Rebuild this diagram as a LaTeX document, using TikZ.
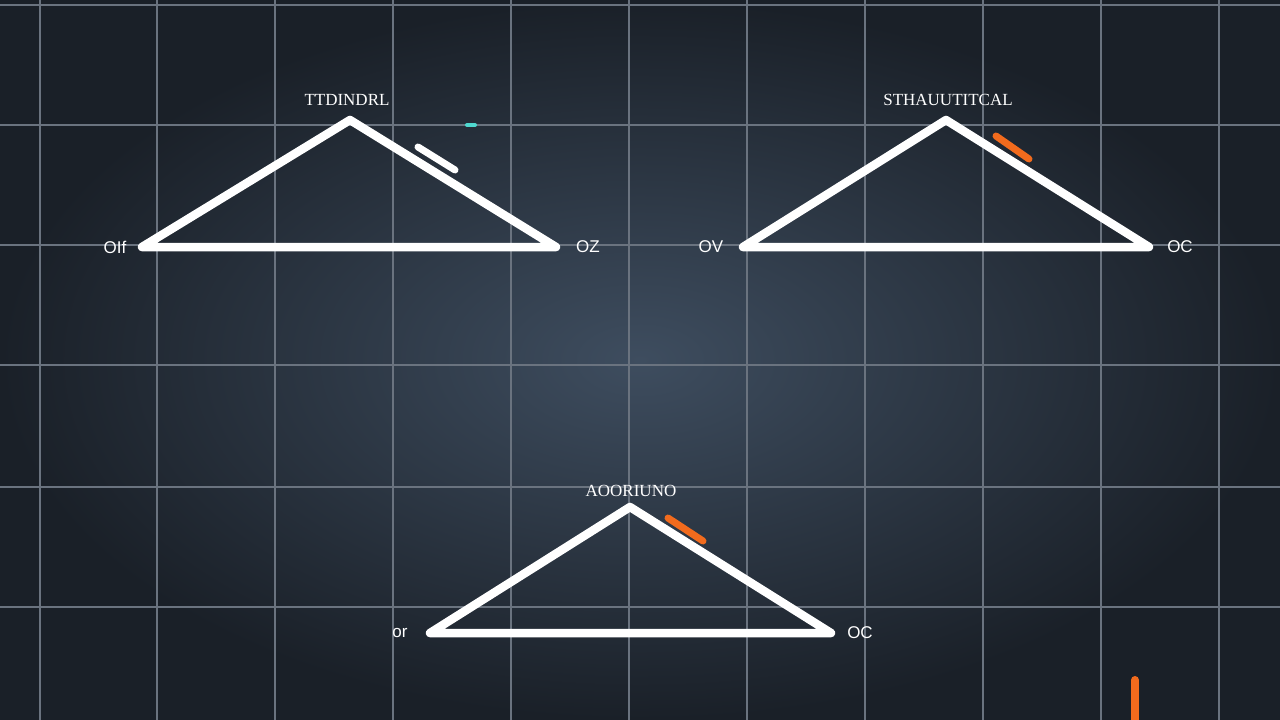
\documentclass[tikz,border=0pt]{standalone}
\usepackage{fontspec}
\setmainfont{Liberation Serif}
\newfontfamily\labsans{Liberation Sans}
\begin{document}
\begin{tikzpicture}[x=1pt,y=-1pt,
  gridline/.style={draw=gridgray,line width=1.8pt},
  tri/.style={draw=white,line width=8.5pt,line join=round},
  accentw/.style={draw=white,line width=7pt,line cap=round},
  accento/.style={draw=accorange,line width=7pt,line cap=round},
  accentc/.style={draw=acccyan,line width=4pt,line cap=round},
  titlelab/.style={text=white,font=\fontsize{17}{17}\selectfont,inner sep=0pt},
  vlab/.style={text=white,font=\labsans\fontsize{17}{17}\selectfont,inner sep=0pt}]
\definecolor{bgin}{HTML}{3E4D5F}
\definecolor{bgout}{HTML}{1A2028}
\definecolor{gridgray}{HTML}{6A737F}
\definecolor{accorange}{HTML}{F26B1D}
\definecolor{acccyan}{HTML}{4FD8CF}
\useasboundingbox (0,0) rectangle (1280,720);
\shade[inner color=bgin,outer color=bgout] (0,0) rectangle (1280,720);
% grid
\foreach \gx in {40,157,275,393,511,629,747,865,983,1101,1219}
  \draw[gridline] (\gx,0) -- (\gx,720);
\foreach \gy in {5,125,245,365,487,607}
  \draw[gridline] (0,\gy) -- (1280,\gy);
% triangle 1
\coordinate (t1a) at (350,120);
\coordinate (t1l) at (142,247);
\coordinate (t1r) at (556,247);
\draw[tri] (t1l) -- (t1a) -- (t1r) -- cycle;
\node[titlelab] (t1t) at (347,100) {TTDINDRL};
\node[vlab] (t1lt) at (115,247) {OIf};
\node[vlab] (t1rt) at (588,247) {OZ};
\coordinate (w1s) at (418,147);
\coordinate (w1e) at (455,170);
\draw[accentw] (w1s) -- (w1e);
\coordinate (c1s) at (467,125);
\coordinate (c1e) at (475,125);
\draw[accentc] (c1s) -- (c1e);
% triangle 2
\coordinate (t2a) at (946,120);
\coordinate (t2l) at (743,247);
\coordinate (t2r) at (1149,247);
\draw[tri] (t2l) -- (t2a) -- (t2r) -- cycle;
\node[titlelab] (t2t) at (948,100) {STHAUUTITCAL};
\node[vlab] (t2lt) at (711,247) {OV};
\node[vlab] (t2rt) at (1180,247) {OC};
\coordinate (o2s) at (996,136);
\coordinate (o2e) at (1029,159);
\draw[accento] (o2s) -- (o2e);
% triangle 3
\coordinate (t3a) at (630,507);
\coordinate (t3l) at (430,633);
\coordinate (t3r) at (831,633);
\draw[tri] (t3l) -- (t3a) -- (t3r) -- cycle;
\node[titlelab] (t3t) at (631,491) {AOORIUNO};
\node[vlab] (t3lt) at (400,633) {or};
\node[vlab] (t3rt) at (860,633) {OC};
\coordinate (o3s) at (668,518);
\coordinate (o3e) at (703,541);
\draw[accento] (o3s) -- (o3e);
% bottom right orange bar
\coordinate (o4s) at (1135,680);
\coordinate (o4e) at (1135,730);
\draw[accento,line width=8pt] (o4s) -- (o4e);
\end{tikzpicture}
\end{document}
